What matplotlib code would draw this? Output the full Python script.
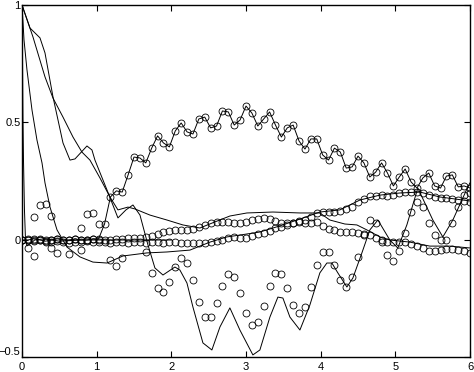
import numpy as np
import matplotlib
matplotlib.use('Agg')
import matplotlib.pyplot as plt

plt.rcParams['font.family'] = ['Liberation Sans', 'DejaVu Sans']
plt.rcParams['font.size'] = 8

# common lag grid for the sampled series (77 samples over 0..6)
N_PTS = 77
X_MAX = 6.0

# connected circles, the big arch
arch = [0.0, 0.0, 0.005, 0.0, -0.005, 0.0, 0.005, 0.0, 0.0, 0.005, 0.0, 0.0, 0.005, 0.005,
        0.068, 0.183, 0.209, 0.204, 0.277, 0.353, 0.349, 0.328, 0.391, 0.443,
        0.413, 0.396, 0.464, 0.498, 0.46, 0.451, 0.515, 0.523, 0.477, 0.485,
        0.549, 0.545, 0.489, 0.511, 0.57, 0.54, 0.485, 0.515, 0.545, 0.489,
        0.438, 0.477, 0.489, 0.421, 0.387, 0.43, 0.43, 0.362, 0.34, 0.391,
        0.374, 0.306, 0.311, 0.357, 0.328, 0.268, 0.289, 0.328, 0.285, 0.23,
        0.268, 0.302, 0.247, 0.221, 0.264, 0.285, 0.23, 0.221, 0.272, 0.277,
        0.226, 0.23, 0.221]

# circle chain rising to ~0.2
chain_p = [0.0, 0.0, -0.005, 0.0, -0.01, -0.01, -0.005, -0.01, -0.013, -0.01,
           -0.01, -0.005, -0.01, -0.01, -0.01, -0.013, -0.01, -0.01, -0.013, -0.01,
           -0.01, -0.013, -0.01, -0.01, -0.013, -0.01, -0.01, -0.013, -0.013,
           -0.013, -0.013, -0.013, -0.01, -0.005, 0.0, 0.01, 0.013, 0.01, 0.01,
           0.015, 0.025, 0.03, 0.04, 0.05, 0.055, 0.065, 0.072, 0.08, 0.085,
           0.098, 0.115, 0.12, 0.12, 0.12, 0.125, 0.13, 0.14, 0.16, 0.175,
           0.187, 0.187, 0.191, 0.187, 0.191, 0.2, 0.203, 0.205, 0.205, 0.2,
           0.19, 0.183, 0.179, 0.177, 0.175, 0.17, 0.165, 0.16]

# circle chain with small hump, ending slightly negative
chain_q = [0.0, 0.005, 0.0, 0.005, 0.0, 0.0, 0.005, 0.0, 0.0, 0.005, 0.0,
           0.0, 0.005, 0.0, 0.0, 0.0, 0.005, 0.005, 0.01, 0.01, 0.01,
           0.013, 0.015, 0.025, 0.032, 0.04, 0.043, 0.043, 0.043, 0.045, 0.055,
           0.064, 0.072, 0.077, 0.077, 0.075, 0.072, 0.072, 0.077, 0.085, 0.09,
           0.094, 0.09, 0.08, 0.072, 0.072, 0.072, 0.075, 0.072, 0.072, 0.077,
           0.06, 0.047, 0.043, 0.034, 0.034, 0.034, 0.03, 0.025, 0.02, 0.01,
           0.0, -0.008, -0.01, -0.01, -0.01, -0.017, -0.025, -0.034, -0.047, -0.047,
           -0.043, -0.038, -0.04, -0.043, -0.047, -0.055]

# loose circles (sample index, value)
scat_idx = [2, 3, 4, 5, 10, 11, 12, 13,
            1, 2, 5, 6, 8, 10, 15, 16, 17, 21,
            22, 23, 24, 25, 26, 27, 28, 29, 30, 31, 32, 33, 34, 35, 36, 37, 38,
            39, 40, 41, 42, 43, 44, 45, 46, 47, 48, 49, 50, 51, 52, 53, 54, 55,
            56, 57, 58, 59, 60, 61, 62, 63, 64, 65, 66, 67, 68, 69, 70, 71, 72,
            73, 74, 75, 76]
scat_val = [0.098, 0.149, 0.153, 0.102, 0.051, 0.111, 0.115, 0.068,
            -0.034, -0.068, -0.034, -0.055, -0.06, -0.043, -0.085, -0.11, -0.077, -0.051,
            -0.14, -0.204, -0.221, -0.179, -0.115, -0.077, -0.098, -0.17, -0.264, -0.328,
            -0.328, -0.268, -0.196, -0.145, -0.157, -0.226, -0.311,
            -0.362, -0.349, -0.281, -0.196, -0.14, -0.145, -0.204, -0.277, -0.311, -0.285,
            -0.2, -0.106, -0.051, -0.051, -0.106, -0.17, -0.2,
            -0.157, -0.072, 0.021, 0.085, 0.072, -0.01, -0.064, -0.089, -0.047, 0.03,
            0.119, 0.162, 0.14, 0.072, 0.02, 0.0, 0.0,
            0.072, 0.14, 0.19, 0.2]

# solid curves
line_a_x = [0, 0.007, 0.013, 0.02, 0.033, 0.047, 0.067, 0.107, 0.17, 0.3, 0.5, 0.8, 1.2, 1.6, 2.0]
line_a_y = [1.0, 0.766, 0.511, 0.34, 0.128, 0.0, -0.025, -0.017, 0.0, 0.005, -0.005, 0.0, 0.0, 0.0, 0.0]

line_b_x = [0, 0.027, 0.067, 0.134, 0.2, 0.268, 0.308, 0.375, 0.469, 0.602, 0.776,
            0.95, 1.138, 1.352, 1.673, 1.941, 2.249, 2.517, 2.744, 2.918, 3.186,
            3.454, 3.722, 3.989, 4.257, 4.525, 4.793, 5.06, 5.328, 5.596, 6.0]
line_b_y = [1.0, 0.851, 0.723, 0.553, 0.426, 0.328, 0.243, 0.14, 0.043, -0.03, -0.072,
            -0.094, -0.098, -0.068, -0.055, -0.051, -0.043, -0.009, 0.013, 0.021, 0.034,
            0.06, 0.089, 0.119, 0.128, 0.17, 0.191, 0.2, 0.204, 0.183, 0.166]

line_c_x = [0, 0.147, 0.308, 0.415, 0.549, 0.683, 0.803, 0.91, 1.044, 1.178, 1.285,
            1.419, 1.513, 1.714, 1.941, 2.155, 2.383, 2.584, 2.784, 3.012, 3.36,
            3.722, 3.989, 4.123, 4.324, 4.485, 4.618, 4.793, 4.926, 5.194, 5.462,
            5.73, 6.0]
line_c_y = [1.0, 0.864, 0.694, 0.604, 0.523, 0.438, 0.374, 0.34, 0.264, 0.183, 0.128,
            0.14, 0.132, 0.106, 0.085, 0.064, 0.051, 0.077, 0.102, 0.115, 0.119,
            0.115, 0.115, 0.085, 0.068, 0.064, 0.043, 0.013, 0.0, -0.009, -0.026,
            -0.026, -0.034]

line_d_x = [0, 0.107, 0.241, 0.308, 0.415, 0.549, 0.643, 0.71, 0.87, 0.937, 0.977,
            1.138, 1.285, 1.392, 1.486, 1.58, 1.687, 1.78, 1.888, 2.048, 2.115,
            2.209, 2.289, 2.423, 2.543, 2.651, 2.784, 2.918, 3.092, 3.186, 3.32,
            3.427, 3.494, 3.588, 3.722, 3.855, 3.989, 4.083, 4.15, 4.23, 4.351,
            4.431, 4.552, 4.659, 4.766, 4.926, 5.033, 5.154, 5.301, 5.502, 5.636,
            5.77, 5.971, 6.0]
line_d_y = [1.0, 0.902, 0.86, 0.796, 0.609, 0.413, 0.34, 0.345, 0.4, 0.383, 0.34,
            0.213, 0.094, 0.128, 0.149, 0.106, -0.021, -0.119, -0.149, -0.115, -0.128,
            -0.183, -0.285, -0.438, -0.468, -0.37, -0.289, -0.383, -0.489, -0.468, -0.328,
            -0.243, -0.247, -0.328, -0.383, -0.277, -0.14, -0.098, -0.098, -0.14, -0.2,
            -0.162, -0.055, 0.043, 0.085, 0.0, -0.034, 0.064, 0.221, 0.085, 0.013,
            0.085, 0.226, 0.243]

lags = np.linspace(0, X_MAX, N_PTS)
step = lags[1] - lags[0]

fig = plt.figure(figsize=(4.74, 3.72), dpi=100)
ax = fig.add_axes([0.0464, 0.039, 0.9452, 0.9476])

lw = 0.7
ms = 5.0
mew = 0.6
ax.plot(line_a_x, line_a_y, '-', color='k', lw=lw)
ax.plot(line_b_x, line_b_y, '-', color='k', lw=lw)
ax.plot(line_c_x, line_c_y, '-', color='k', lw=lw)
ax.plot(line_d_x, line_d_y, '-', color='k', lw=lw)

ax.plot(lags, chain_p, 'o', color='k', mfc='none', ms=ms, mew=mew)
ax.plot(lags, chain_q, 'o', color='k', mfc='none', ms=ms, mew=mew)
ax.plot(np.array(scat_idx) * step, scat_val, 'o', color='k', mfc='none', ms=ms, mew=mew)
ax.plot(lags, arch, 'o-', color='k', mfc='none', ms=ms, mew=mew, lw=lw)

ax.set_xlim(0, 6)
ax.set_ylim(-0.5, 1)
ax.set_xticks([0, 1, 2, 3, 4, 5, 6])
ax.set_yticks([-0.5, 0, 0.5, 1])
ax.set_yticklabels(['\u22120.5', '0', '0.5', '1'])
ax.tick_params(direction='in', top=True, right=True, length=4, width=0.8,
               labelsize=8)
ax.tick_params(axis='y', pad=1)
ax.tick_params(axis='x', pad=3)
# lowest y label sits a touch above the corner, as in the original
ax.get_yticklabels()[0].set_verticalalignment('bottom')
for s in ax.spines.values():
    s.set_linewidth(1.0)

fig.savefig('out.png', dpi=100)
